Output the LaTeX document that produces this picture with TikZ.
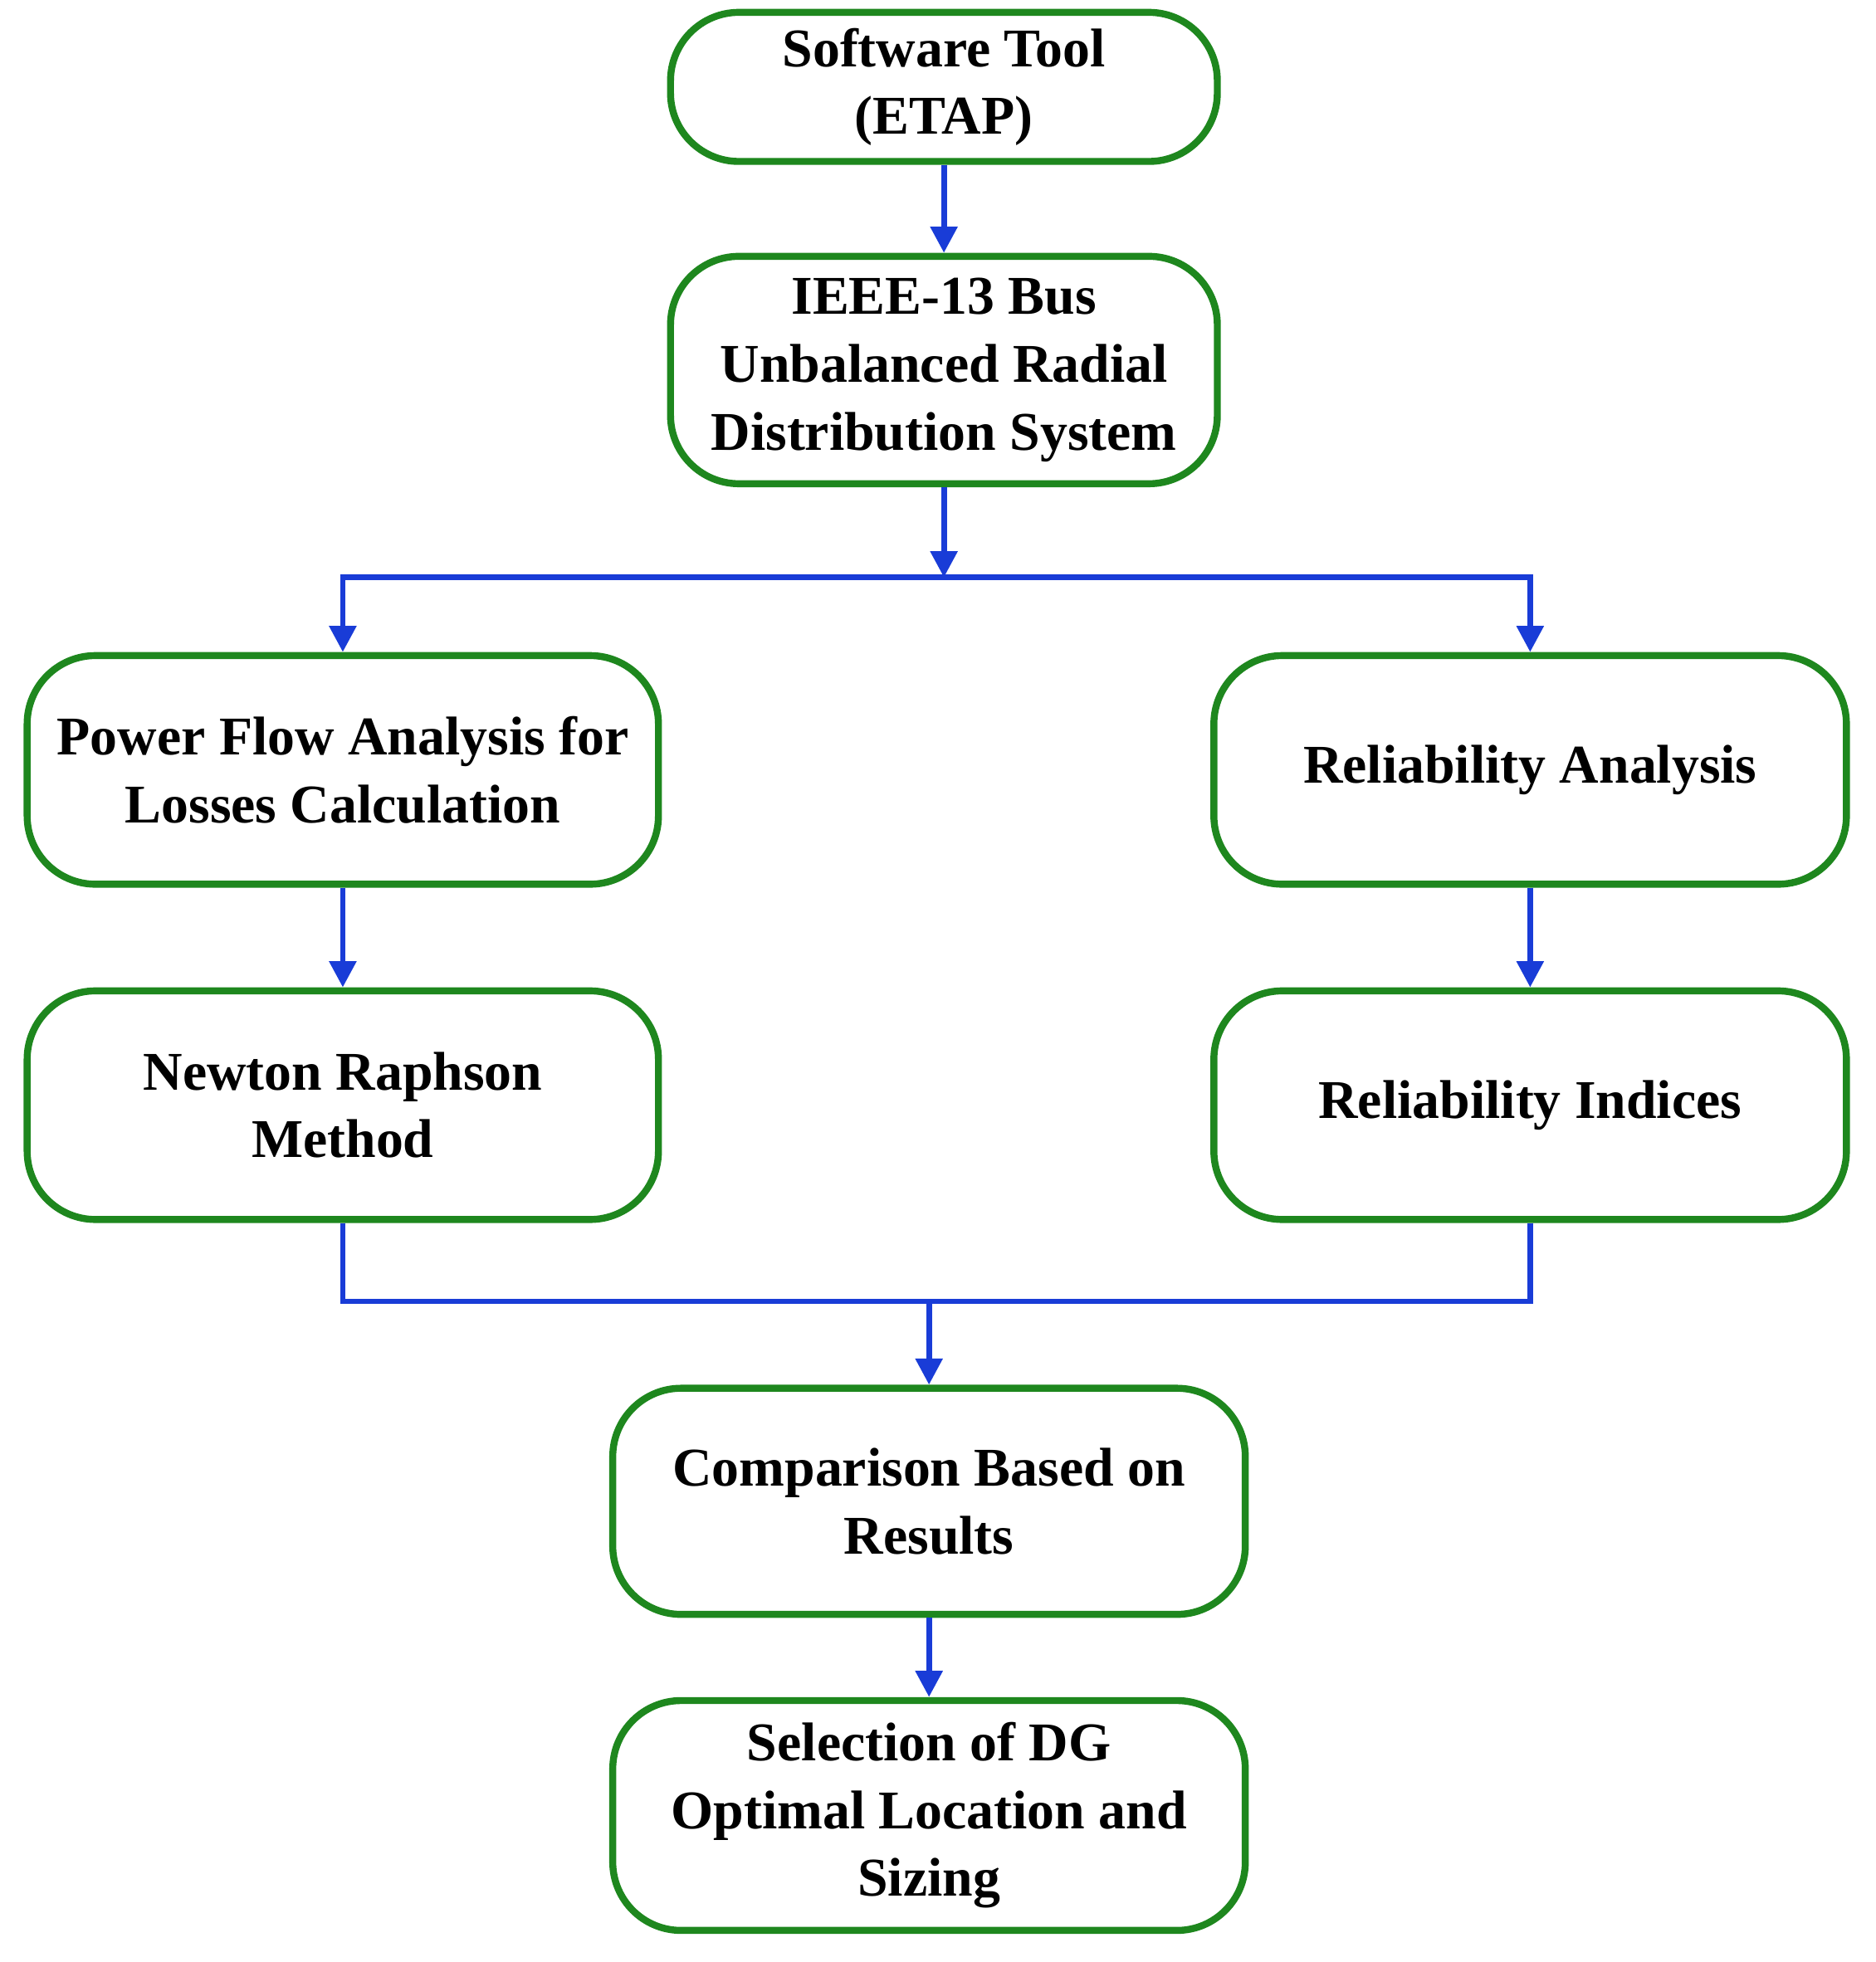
\documentclass[tikz,border=0pt]{standalone}
\usepackage{fontspec}
\setmainfont{Liberation Serif}
\usetikzlibrary{arrows.meta}
\definecolor{boxgreen}{RGB}{30,135,30}
\definecolor{arrblue}{RGB}{25,60,215}
\begin{document}
\begin{tikzpicture}[x=0.01cm,y=-0.01cm]
\tikzset{
  box/.style={draw=boxgreen,line width=1.6pt,rounded corners=0.55cm,align=center,
    font=\fontsize{12.5}{15.5}\selectfont\bfseries,inner sep=0pt},
  arr/.style={draw=arrblue,line width=1.3pt,-{Triangle[length=6pt,width=6pt]}},
  ln/.style={draw=arrblue,line width=1.3pt}
}
\useasboundingbox (0,0) rectangle (1510,1580);
\node[box,minimum width=4.4cm,minimum height=1.2cm] (tool) at (760,70) {Software Tool\\(ETAP)};
\node[box,minimum width=4.4cm,minimum height=1.83cm] (ieee) at (760,298) {IEEE-13 Bus\\Unbalanced Radial\\Distribution System};
\node[box,minimum width=5.08cm,minimum height=1.84cm] (pf) at (276,620) {Power Flow Analysis for\\Losses Calculation};
\node[box,minimum width=5.09cm,minimum height=1.84cm] (ra) at (1232,620) {Reliability Analysis};
\node[box,minimum width=5.08cm,minimum height=1.84cm] (nr) at (276,890) {Newton Raphson\\Method};
\node[box,minimum width=5.09cm,minimum height=1.84cm] (ri) at (1232,890) {Reliability Indices};
\node[box,minimum width=5.09cm,minimum height=1.82cm] (cmp) at (748,1209) {Comparison Based on\\Results};
\node[box,minimum width=5.09cm,minimum height=1.85cm] (sel) at (748,1462) {Selection of DG\\Optimal Location and\\Sizing};
\coordinate (split) at (760,465);
\coordinate (merge) at (748,1048);
\draw[arr] (tool) -- (ieee);
\draw[arr] (ieee) -- (split);
\draw[arr] (split) -| (pf);
\draw[arr] (split) -| (ra);
\draw[arr] (pf) -- (nr);
\draw[arr] (ra) -- (ri);
\draw[ln] (nr) |- (merge);
\draw[ln] (ri) |- (merge);
\draw[arr] (merge) -- (cmp);
\draw[arr] (cmp) -- (sel);
\end{tikzpicture}
\end{document}
